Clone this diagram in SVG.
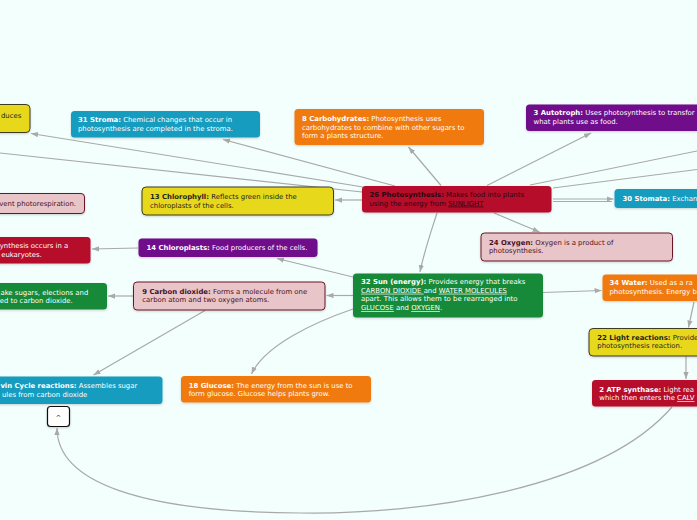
<svg xmlns="http://www.w3.org/2000/svg" width="697" height="520" viewBox="0 0 697 520">
<defs>
<style>
text{font-family:"DejaVu Sans",Verdana,sans-serif;font-size:6.9px}
.b{font-weight:bold}
.u{text-decoration:underline}
.w{fill:#ffffff}
.k{fill:#1e1e1e}
.pk{fill:#4a0f1c}
.dk{fill:#2b0510}
.c path,.c line{fill:none;stroke:#a9a9a9;stroke-width:1.2}
.teal{fill:#159cbf}
.org{fill:#f07a10}
.pur{fill:#6f0a8b}
.red{fill:#b50b2c}
.grn{fill:#198a38}
.yel{fill:#e7d81b;stroke:#3d3b22;stroke-width:1}
.pnk{fill:#e8c5c9;stroke:#6a1426;stroke-width:1}
</style>
<filter id="sh" x="-10%" y="-30%" width="120%" height="170%">
<feDropShadow dx="0" dy="1" stdDeviation="1" flood-color="#000" flood-opacity="0.18"/>
</filter>
<marker id="a" viewBox="0 0 8 6" refX="8" refY="3" markerWidth="7" markerHeight="5.5" markerUnits="userSpaceOnUse" orient="auto">
<path d="M0,0 L8,3 L0,6 z" fill="#a9a9a9"/>
</marker>
</defs>
<rect x="0" y="0" width="697" height="520" fill="#f3fffd"/>

<g class="c" id="connectors">
<line x1="363" y1="187" x2="31" y2="133.5" marker-end="url(#a)"/>
<line x1="362" y1="192" x2="0" y2="153"/>
<line x1="395" y1="186" x2="223" y2="139.5" marker-end="url(#a)"/>
<line x1="441" y1="185.5" x2="408.5" y2="147" marker-end="url(#a)"/>
<line x1="487" y1="185.5" x2="591" y2="133" marker-end="url(#a)"/>
<line x1="530" y1="185" x2="697" y2="151"/>
<line x1="553" y1="188" x2="697" y2="169.5"/>
<line x1="553" y1="199" x2="613.5" y2="199" marker-end="url(#a)"/>
<line x1="553" y1="201.5" x2="612" y2="201.5"/>
<line x1="362" y1="200" x2="335" y2="200" marker-end="url(#a)"/>
<line x1="494" y1="213" x2="539.5" y2="232" marker-end="url(#a)"/>
<path d="M437,213 C430,235 424,252 420,272" marker-end="url(#a)"/>
<line x1="138" y1="248" x2="92" y2="249" marker-end="url(#a)"/>
<line x1="353" y1="277" x2="277" y2="258.5" marker-end="url(#a)"/>
<line x1="543" y1="292.5" x2="601.5" y2="290.5" marker-end="url(#a)"/>
<line x1="353" y1="295.5" x2="326.5" y2="295.5" marker-end="url(#a)"/>
<path d="M353,309 C315,322 265,345 251.5,374" marker-end="url(#a)"/>
<line x1="133.5" y1="296" x2="108" y2="296" marker-end="url(#a)"/>
<line x1="205" y1="310.5" x2="93.5" y2="375" marker-end="url(#a)"/>
<line x1="694" y1="302" x2="688.5" y2="327.5" marker-end="url(#a)"/>
<line x1="686" y1="356.5" x2="686" y2="379" marker-end="url(#a)"/>
<path d="M672,407 C600,490 420,515 300,513 C140,512 57,482 57,428" marker-end="url(#a)"/>
</g>

<g id="node-produces">
<rect class="yel" x="-10" y="104.5" width="40" height="28" rx="4" filter="url(#sh)"/>
<text class="k" x="1" y="118">duces</text>
</g>

<g id="node-stroma">
<rect class="teal" x="71" y="111" width="189" height="26.5" rx="3.5" filter="url(#sh)"/>
<text class="w" x="78" y="122"><tspan class="b">31 Stroma:</tspan> Chemical changes that occur in</text>
<text class="w" x="78" y="130.5">photosynthesis are completed in the stroma.</text>
</g>

<g id="node-carbohydrates">
<rect class="org" x="294.5" y="109" width="189.5" height="36" rx="3.5" filter="url(#sh)"/>
<text class="w" x="302" y="121"><tspan class="b">8 Carbohydrates:</tspan> Photosynthesis uses</text>
<text class="w" x="302" y="129.7">carbohydrates to combine with other sugars to</text>
<text class="w" x="302" y="138.4">form a plants structure.</text>
</g>

<g id="node-autotroph">
<rect class="pur" x="526" y="104.5" width="180" height="26.5" rx="3.5" filter="url(#sh)"/>
<text class="w" x="533.5" y="115.2"><tspan class="b">3 Autotroph:</tspan> Uses photosynthesis to transfor</text>
<text class="w" x="533.5" y="123.8">what plants use as food.</text>
</g>

<g id="node-photorespiration">
<rect class="pnk" x="-10" y="193.5" width="94.5" height="20" rx="3.5" filter="url(#sh)"/>
<text class="pk" x="76" y="205.5" text-anchor="end">vent photorespiration.</text>
</g>

<g id="node-chlorophyll">
<rect class="yel" x="142" y="187" width="191.5" height="28" rx="4" filter="url(#sh)"/>
<text class="k" x="150" y="199"><tspan class="b">13 Chlorophyll:</tspan> Reflects green inside the</text>
<text class="k" x="150" y="207.5">chloroplasts of the cells.</text>
</g>

<g id="node-photosynthesis">
<rect class="red" x="362" y="186" width="189.5" height="26.5" rx="3.5" filter="url(#sh)"/>
<text class="dk" x="369.5" y="196.8"><tspan class="b">26 Photosynthesis:</tspan> Makes food into plants</text>
<text class="dk" x="369.5" y="205.6">using the energy from <tspan class="u">SUNLIGHT</tspan></text>
</g>

<g id="node-stomata">
<rect class="teal" x="614.5" y="189" width="100" height="19" rx="3.5" filter="url(#sh)"/>
<text class="w" x="622.5" y="201"><tspan class="b">30 Stomata:</tspan> Exchan</text>
</g>

<g id="node-oxygen">
<rect class="pnk" x="481" y="233" width="191.5" height="28" rx="3.5" filter="url(#sh)"/>
<text class="pk" x="489" y="244.5"><tspan class="b">24 Oxygen:</tspan> Oxygen is a product of</text>
<text class="pk" x="489" y="253">photosynthesis.</text>
</g>

<g id="node-eukaryotes">
<rect class="red" x="-10" y="237" width="100.5" height="26.5" rx="3.5" filter="url(#sh)"/>
<text class="w" x="68.3" y="248.3" text-anchor="end">ynthesis occurs in a</text>
<text class="w" x="41.7" y="256.6" text-anchor="end">eukaryotes.</text>
</g>

<g id="node-chloroplasts">
<rect class="pur" x="138.5" y="238.5" width="179" height="18.5" rx="3.5" filter="url(#sh)"/>
<text class="w" x="146.5" y="249.8"><tspan class="b">14 Chloroplasts:</tspan> Food producers of the cells.</text>
</g>

<g id="node-sun">
<rect class="grn" x="353" y="273.5" width="190" height="44" rx="3.5" filter="url(#sh)"/>
<text class="w" x="361" y="284"><tspan class="b">32 Sun (energy):</tspan> Provides energy that breaks</text>
<text class="w" x="361" y="292.7"><tspan class="u">CARBON DIOXIDE </tspan>and <tspan class="u">WATER MOLECULES</tspan></text>
<text class="w" x="361" y="301.3">apart. This allows them to be rearranged into</text>
<text class="w" x="361" y="310"><tspan class="u">GLUCOSE</tspan> and <tspan class="u">OXYGEN</tspan>.</text>
</g>

<g id="node-water">
<rect class="org" x="602.5" y="274.5" width="110" height="26.5" rx="3.5" filter="url(#sh)"/>
<text class="w" x="609.5" y="285.2"><tspan class="b">34 Water:</tspan> Used as a ra</text>
<text class="w" x="609.5" y="293.8">photosynthesis. Energy b</text>
</g>

<g id="node-sugars">
<rect class="grn" x="-10" y="283" width="117" height="26.5" rx="3.5" filter="url(#sh)"/>
<text class="w" x="88.3" y="294.5" text-anchor="end">ake sugars, elections and</text>
<text class="w" x="72.7" y="302.6" text-anchor="end">ed to carbon dioxide.</text>
</g>

<g id="node-carbon-dioxide">
<rect class="pnk" x="133.5" y="282" width="191.5" height="28" rx="3.5" filter="url(#sh)"/>
<text class="pk" x="142.3" y="293.5"><tspan class="b">9 Carbon dioxide:</tspan> Forms a molecule from one</text>
<text class="pk" x="142.3" y="302.3">carbon atom and two oxygen atoms.</text>
</g>

<g id="node-light-reactions">
<rect class="yel" x="589" y="328.5" width="120" height="27.5" rx="4" filter="url(#sh)"/>
<text class="k" x="597.3" y="339.5"><tspan class="b">22 Light reactions:</tspan> Provide</text>
<text class="k" x="597.3" y="348.3">photosynthesis reaction.</text>
</g>

<g id="node-calvin">
<rect class="teal" x="-10" y="376.5" width="172.5" height="27.5" rx="3.5" filter="url(#sh)"/>
<text class="w" x="137.3" y="388.3" text-anchor="end"><tspan class="b">vin Cycle reactions:</tspan> Assembles sugar</text>
<text class="w" x="87.3" y="396.5" text-anchor="end">ules from carbon dioxide</text>
</g>

<g id="node-glucose">
<rect class="org" x="181" y="376" width="190" height="26.5" rx="3.5" filter="url(#sh)"/>
<text class="w" x="188.7" y="387.5"><tspan class="b">18 Glucose:</tspan> The energy from the sun is use to</text>
<text class="w" x="188.7" y="395.8">form glucose. Glucose helps plants grow.</text>
</g>

<g id="node-atp">
<rect class="red" x="592" y="380" width="110" height="26.5" rx="3.5" filter="url(#sh)"/>
<text class="w" x="599.3" y="391.7"><tspan class="b">2 ATP synthase:</tspan> Light rea</text>
<text class="w" x="599.3" y="400.2">which then enters the <tspan class="u">CALV</tspan></text>
</g>

<g id="node-collapse">
<rect x="47.5" y="406.5" width="22" height="20" rx="3" fill="#ffffff" stroke="#111111" stroke-width="1.2" filter="url(#sh)"/>
<text class="k" x="58.5" y="420" text-anchor="middle">^</text>
</g>
</svg>
